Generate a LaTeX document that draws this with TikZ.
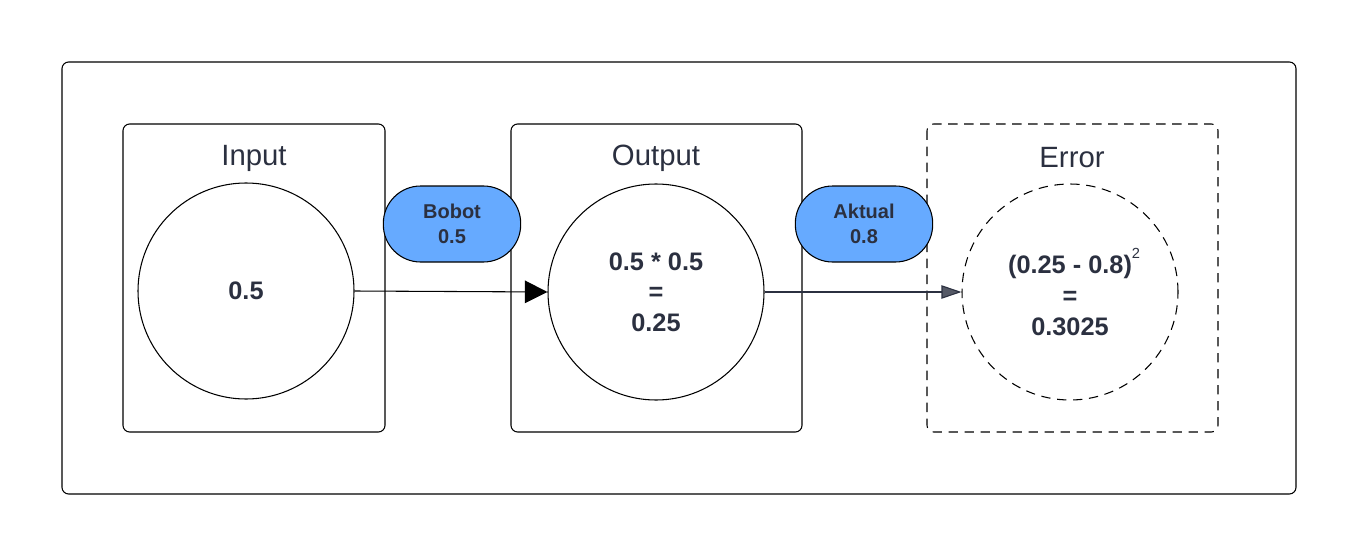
\documentclass[tikz,border=0pt]{standalone}
\usepackage{fontspec}
\setmainfont{Liberation Sans}
\usetikzlibrary{arrows.meta}
\definecolor{txt}{HTML}{2B3040}
\definecolor{pill}{HTML}{66AAFF}
\begin{document}
\begin{tikzpicture}[x=0.75pt,y=-0.75pt,
  box/.style={draw=black,line width=0.8pt,rounded corners=5pt},
  circ/.style={draw=black,line width=0.8pt,circle,minimum size=162pt,inner sep=0pt,align=center,font=\fontsize{19}{23}\selectfont\bfseries,text=txt},
  ttl/.style={font=\fontsize{22}{26}\selectfont,text=txt},
  pl/.style={draw=black,line width=0.8pt,fill=pill,rounded corners=28pt,minimum width=103pt,minimum height=57pt,align=center,font=\fontsize{15}{19}\selectfont\bfseries,text=txt}]
\useasboundingbox (0,0) rectangle (1358,556);
\draw[box] (62,62) rectangle (1296,494);
\draw[box] (123,124) rectangle (385,432);
\draw[box] (511,124) rectangle (802,432);
\draw[box,dashed,dash pattern=on 7pt off 5pt] (927,124) rectangle (1218,432);
\node[ttl] (ti) at (254,158) {Input};
\node[ttl] (to) at (656,158) {Output};
\node[ttl] (te) at (1072,158) {Error};
\node[circ] (ci) at (246,291) {0.5};
\node[circ] (co) at (656,292) {0.5 * 0.5\\=\\0.25};
\node[circ,dashed,dash pattern=on 7pt off 5pt] (ce) at (1070,292) {(0.25 - 0.8)\rlap{\raisebox{1.1ex}{\fontsize{11}{12}\selectfont\mdseries 2}}\\=\\0.3025};
\draw[line width=0.8pt,-{Triangle[length=17pt,width=17pt]}] (ci.east) -- (co.west);
\draw[draw=txt,line width=0.8pt,-{Triangle[length=15pt,width=10pt,fill=txt!80]}] (co.east) -- (ce.west);
\node[pl] (bb) at (452,224) {Bobot\\0.5};
\node[pl] (ak) at (864,224) {Aktual\\0.8};
\end{tikzpicture}
\end{document}
